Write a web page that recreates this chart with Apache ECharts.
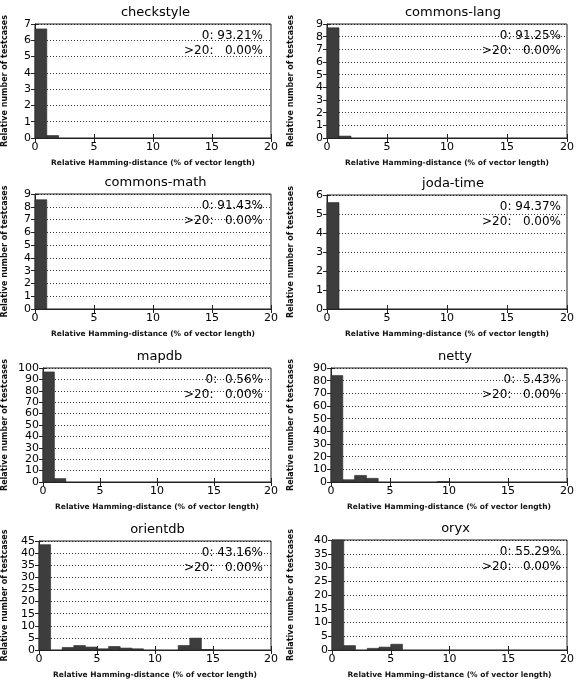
<!DOCTYPE html>
<html>
<head>
<meta charset="UTF-8">
<title>Hamming-distance histograms</title>
<script src="https://cdn.jsdelivr.net/npm/echarts@6/dist/echarts.min.js"></script>
<style>
  html, body { margin: 0; padding: 0; background: #fff; }
  #main { width: 577px; height: 680px; }
</style>
</head>
<body>
<div id="main"></div>
<script>
// bins of width 1 on [0,20), values are relative number of testcases per bin
var binStarts = [0, 1, 2, 3, 4, 5, 6, 7, 8, 9, 10, 11, 12, 13, 14, 15, 16, 17, 18, 19];
var checkstyle  = [6.7, 0.15, 0, 0, 0, 0, 0, 0, 0, 0, 0, 0, 0, 0, 0, 0, 0, 0, 0, 0];
var commonsLang = [8.7, 0.15, 0, 0, 0, 0, 0, 0, 0, 0, 0, 0, 0, 0, 0, 0, 0, 0, 0, 0];
var commonsMath = [8.55, 0, 0, 0, 0, 0, 0, 0, 0, 0, 0, 0, 0, 0, 0, 0, 0, 0, 0, 0];
var jodaTime    = [5.6, 0, 0, 0, 0, 0, 0, 0, 0, 0, 0, 0, 0, 0, 0, 0, 0, 0, 0, 0];
var mapdb       = [96.6, 3, 0, 0, 0, 0, 0, 0, 0, 0, 0, 0, 0, 0, 0, 0, 0, 0, 0, 0];
var netty       = [84, 1.8, 5.2, 2.9, 0, 0, 0, 0, 0, 0.3, 0, 0, 0, 0, 0, 0, 0, 0, 0, 0];
var orientdb    = [43.5, 0, 1.05, 1.85, 1.2, 0.5, 1.45, 0.8, 0.5, 0, 0, 0, 1.85, 4.9, 0.2, 0, 0, 0, 0, 0];
var oryx        = [40, 1.6, 0, 0.6, 1.05, 2.1, 0, 0, 0, 0, 0, 0, 0, 0, 0, 0, 0, 0, 0, 0];

var names     = ['checkstyle', 'commons-lang', 'commons-math', 'joda-time', 'mapdb', 'netty', 'orientdb', 'oryx'];
var zeroShare = ['93.21%', '91.25%', '91.43%', '94.37%', '0.56%', '5.43%', '43.16%', '55.29%'];
var overShare = ['0.00%', '0.00%', '0.00%', '0.00%', '0.00%', '0.00%', '0.00%', '0.00%'];
var yMax      = [7, 9, 9, 6, 100, 90, 45, 40];
var yStep     = [1, 1, 1, 1, 10, 10, 5, 5];
var xTicks    = [0, 5, 10, 15, 20];
var series    = [checkstyle, commonsLang, commonsMath, jodaTime, mapdb, netty, orientdb, oryx];

var FONT = 'DejaVu Sans';
var BIN = 1;

// plot boxes (pixels)
var boxes = [
  { l: 30,  r: 271, t: 24,  b: 138 },
  { l: 327, r: 569, t: 24,  b: 138 },
  { l: 30,  r: 271, t: 194, b: 309 },
  { l: 327, r: 569, t: 195, b: 309 },
  { l: 38,  r: 271, t: 368, b: 482 },
  { l: 331, r: 569, t: 368, b: 482 },
  { l: 34,  r: 271, t: 541, b: 654 },
  { l: 332, r: 569, t: 540, b: 654 }
];

var grids = [], xAxes = [], yAxes = [], seriesList = [], titles = [], graphics = [];

function renderBin(params, api) {
  var x0 = api.value(0), v = api.value(1);
  if (!v) return null;
  var p0 = api.coord([x0, v]);
  var p1 = api.coord([x0 + BIN, 0]);
  return {
    type: 'rect',
    shape: { x: p0[0], y: p0[1], width: p1[0] - p0[0], height: p1[1] - p0[1] },
    style: { fill: '#3d3d3d', stroke: '#2a2a2a', lineWidth: 0.6 }
  };
}

// "0: 93.21%" / "0:  0.56%"  (value right-padded to 6 chars like %6.2f)
function pad6(s) {
  var num = s.replace('%', '');
  while (num.length < 5) num = ' ' + num;
  return num + '%';
}

names.forEach(function (name, i) {
  var b = boxes[i];
  var yTitleX = (i % 2 === 0) ? 4 : 295;
  grids.push({
    left: b.l, top: b.t, width: b.r - b.l, height: b.b - b.t,
    show: true, borderColor: '#222', borderWidth: 1, backgroundColor: '#fff'
  });
  var tickStyle = { show: true, inside: true, length: 4, lineStyle: { color: '#222' } };
  // bottom x axis
  xAxes.push({
    type: 'value', gridIndex: i, min: 0, max: 20, interval: 5,
    axisLine: { show: true, lineStyle: { color: '#222' } },
    axisTick: tickStyle,
    splitLine: { show: false },
    axisLabel: { fontFamily: FONT, fontSize: 11, color: '#000', margin: 4,
      formatter: function (v) { return xTicks.indexOf(v) >= 0 ? String(v) : ''; } },
    name: 'Relative Hamming-distance (% of vector length)',
    nameLocation: 'middle', nameGap: 21,
    nameTextStyle: { fontFamily: FONT, fontSize: 7.5, fontWeight: 'bold', color: '#111' }
  });
  // top x axis (ticks only)
  xAxes.push({
    type: 'value', gridIndex: i, position: 'top', min: 0, max: 20, interval: 5,
    axisLine: { show: false }, axisTick: tickStyle,
    axisLabel: { show: false }, splitLine: { show: false }
  });
  // left y axis
  yAxes.push({
    type: 'value', gridIndex: i, min: 0, max: yMax[i], interval: yStep[i],
    axisLine: { show: true, lineStyle: { color: '#222' } },
    axisTick: tickStyle,
    splitLine: { show: true, lineStyle: { color: '#000', type: [1, 2], width: 0.8 } },
    axisLabel: { fontFamily: FONT, fontSize: 11, color: '#000', margin: 4 },
    name: 'Relative number of testcases',
    nameLocation: 'middle', nameGap: b.l - yTitleX,
    nameTextStyle: { fontFamily: FONT, fontSize: 8, fontWeight: 'bold', color: '#111' }
  });
  // right y axis (ticks only)
  yAxes.push({
    type: 'value', gridIndex: i, position: 'right', min: 0, max: yMax[i], interval: yStep[i],
    axisLine: { show: false }, axisTick: tickStyle,
    axisLabel: { show: false }, splitLine: { show: false }
  });
  seriesList.push({
    type: 'custom', name: name, xAxisIndex: 2 * i, yAxisIndex: 2 * i,
    renderItem: renderBin, z: 5,
    data: binStarts.map(function (x, k) { return [x, series[i][k]]; })
  });
  titles.push({
    text: name, left: (b.l + b.r) / 2, top: b.t - 23, textAlign: 'center',
    textStyle: { fontFamily: FONT, fontSize: 13, fontWeight: 'normal', color: '#000' }
  });
  graphics.push({
    type: 'text', x: b.r - 8, y: b.t + 12, z: 10,
    style: {
      text: '0: ' + pad6(zeroShare[i]), align: 'right', verticalAlign: 'middle',
      fontFamily: FONT, fontSize: 12, fill: '#000'
    }
  });
  graphics.push({
    type: 'text', x: b.r - 8, y: b.t + 27, z: 10,
    style: {
      text: '>20:   ' + overShare[i], align: 'right', verticalAlign: 'middle',
      fontFamily: FONT, fontSize: 12, fill: '#000'
    }
  });
});

var chart = echarts.init(document.getElementById('main'));
chart.setOption({
  animation: false,
  backgroundColor: '#fff',
  title: titles,
  grid: grids,
  xAxis: xAxes,
  yAxis: yAxes,
  series: seriesList,
  graphic: graphics
});
</script>
</body>
</html>
